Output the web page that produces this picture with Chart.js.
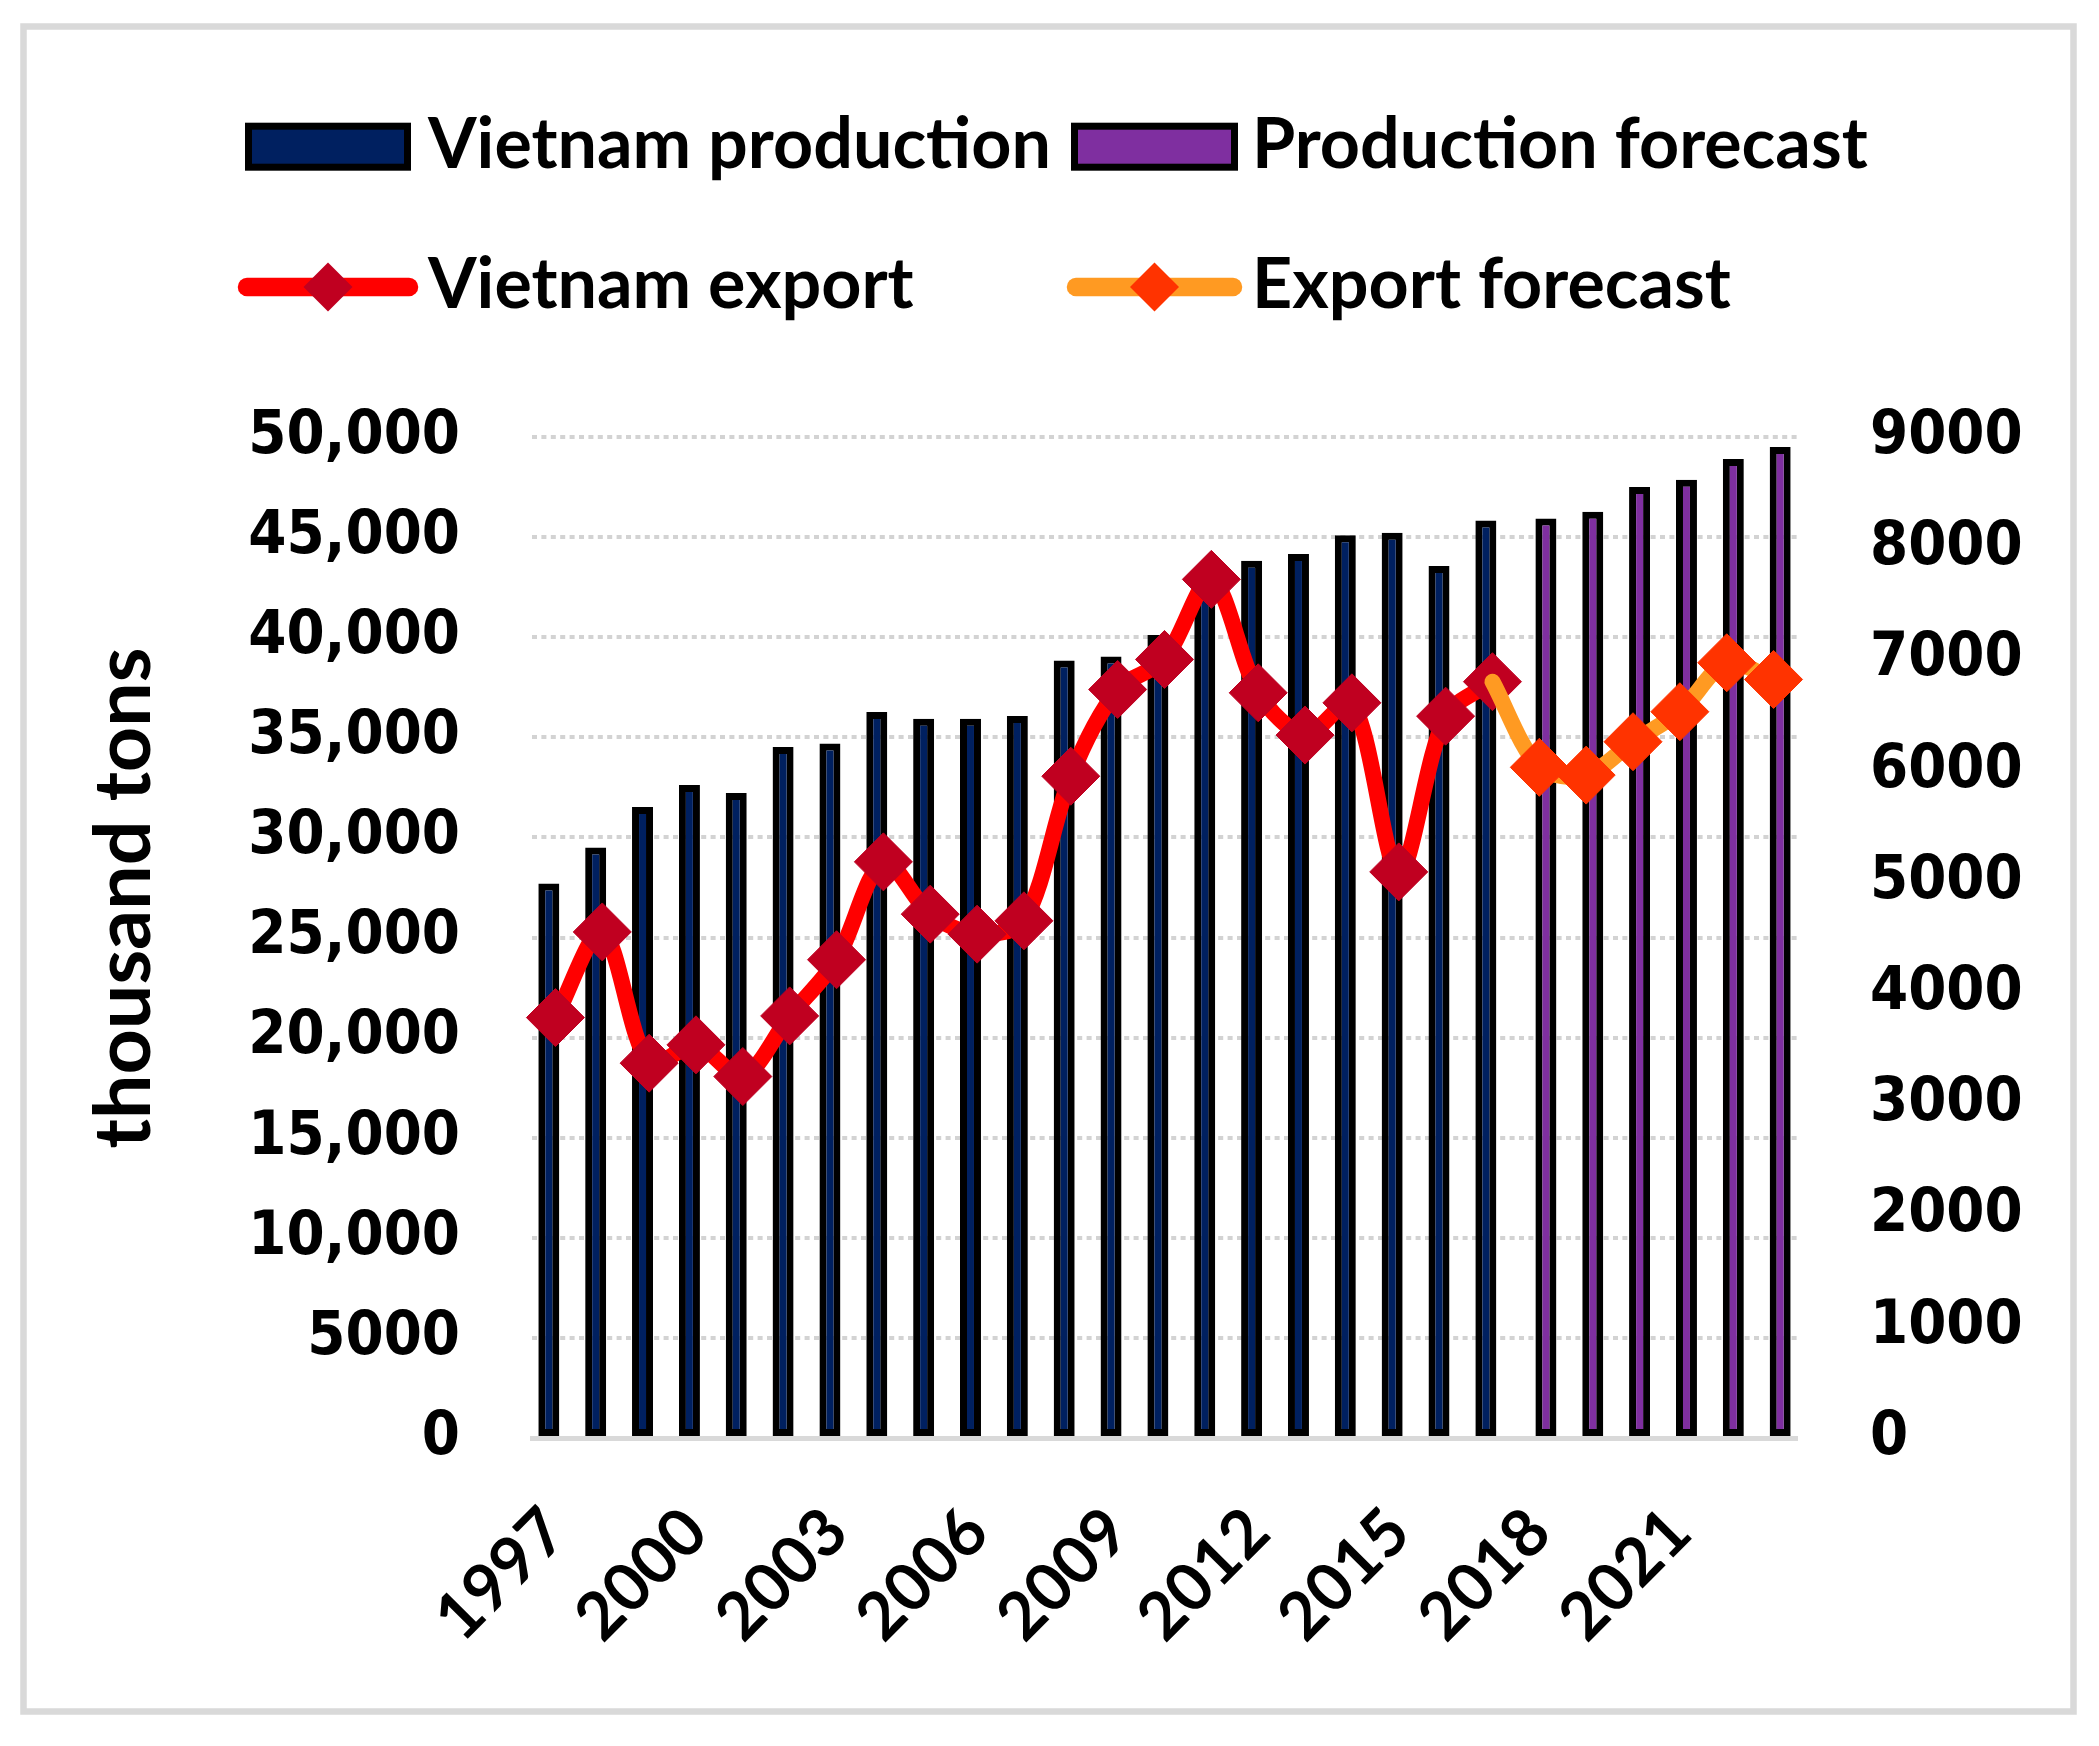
<!DOCTYPE html>
<html>
<head>
<meta charset="utf-8">
<script src="https://cdn.jsdelivr.net/npm/chart.js@4.4.1/dist/chart.umd.min.js"></script>
<style>
html,body{margin:0;padding:0;background:#fff;}
canvas{display:block;}
</style>
</head>
<body>
<canvas id="c" width="2099" height="1746" style="width:2099px;height:1746px"></canvas>
<script>
// ---------- data ----------
const years = ['1997','1998','1999','2000','2001','2002','2003','2004','2005','2006','2007','2008','2009','2010','2011','2012','2013','2014','2015','2016','2017','2018','2019','2020','2021','2022','2023'];
const productionActual = [27700,29500,31520,32620,32220,34520,34690,36260,35930,35930,36060,38840,39040,40110,42400,43820,44150,45090,45220,43560,45830,null,null,null,null,null,null];
const productionForecast = [null,null,null,null,null,null,null,null,null,null,null,null,null,null,null,null,null,null,null,null,null,45930,46260,47500,47870,48900,49500];
const exportActual = [3780,4550,3370,3535,3250,3795,4300,5180,4710,4530,4650,5950,6730,7000,7720,6700,6320,6610,5090,6490,6800,null,null,null,null,null,null];
const exportForecast = [null,null,null,null,null,null,null,null,null,null,null,null,null,null,null,null,null,null,null,null,6800,6030,5960,6260,6530,6970,6820];
const leftTickLabels = ['0','5000','10,000','15,000','20,000','25,000','30,000','35,000','40,000','45,000','50,000'];
const rightTickLabels = ['0','1000','2000','3000','4000','5000','6000','7000','8000','9000'];
const xTickLabels = years.map((y, i) => (i % 3 === 0 ? y : ''));
const seriesNames = ['Vietnam production','Production forecast','Vietnam export','Export forecast'];
const yTitle = 'thousand tons';

// ---------- styling ----------
const TICK_FONT = {family: '"DejaVu Sans Condensed", "DejaVu Sans", sans-serif', size: 61, weight: 'bold'};
const LABEL_FAMILY = 'Lato, "Open Sans", sans-serif';

const decor = {
  id: 'decor',
  beforeDraw(chart) {
    const ctx = chart.ctx;
    ctx.save();
    ctx.fillStyle = '#ffffff';
    ctx.fillRect(0, 0, chart.width, chart.height);
    ctx.strokeStyle = '#d9d9d9';
    ctx.lineWidth = 6.5;
    ctx.strokeRect(23.5, 26.5, 2050, 1685);
    ctx.restore();
  },
  afterDraw(chart) {
    const ctx = chart.ctx;
    const ds = chart.data.datasets;
    ctx.save();
    // legend
    const items = [
      {i: 0, kind: 'box', x0: 245, x1: 411, tx: 428, cy: 146.7, base: 168},
      {i: 1, kind: 'box', x0: 1071, x1: 1238, tx: 1252, cy: 146.7, base: 168},
      {i: 2, kind: 'line', x0: 238, x1: 418, tx: 428, cy: 287, base: 308},
      {i: 3, kind: 'line', x0: 1067, x1: 1242, tx: 1252, cy: 287, base: 308}
    ];
    items.forEach(it => {
      const d = ds[it.i];
      if (it.kind === 'box') {
        ctx.fillStyle = '#000000';
        ctx.fillRect(it.x0, it.cy - 24, it.x1 - it.x0, 48);
        ctx.fillStyle = d.backgroundColor;
        ctx.fillRect(it.x0 + 7, it.cy - 17, it.x1 - it.x0 - 14, 34);
      } else {
        ctx.strokeStyle = d.borderColor;
        ctx.lineWidth = 18.5;
        ctx.lineCap = 'round';
        ctx.beginPath();
        ctx.moveTo(it.x0 + 9, it.cy);
        ctx.lineTo(it.x1 - 9, it.cy);
        ctx.stroke();
        const cx = (it.x0 + it.x1) / 2, r = 24.5;
        ctx.fillStyle = d.pointBackgroundColor;
        ctx.beginPath();
        ctx.moveTo(cx - r, it.cy);
        ctx.lineTo(cx, it.cy - r);
        ctx.lineTo(cx + r, it.cy);
        ctx.lineTo(cx, it.cy + r);
        ctx.closePath();
        ctx.fill();
      }
      ctx.fillStyle = '#000000';
      ctx.font = 'bold 70px ' + LABEL_FAMILY;
      ctx.textAlign = 'left';
      ctx.textBaseline = 'alphabetic';
      ctx.fillText(d.label, it.tx, it.base);
    });
    // y axis title
    ctx.translate(150, 898);
    ctx.rotate(-Math.PI / 2);
    ctx.font = 'bold 79px ' + LABEL_FAMILY;
    ctx.textAlign = 'center';
    ctx.textBaseline = 'alphabetic';
    ctx.fillStyle = '#000000';
    ctx.fillText(yTitle, 0, 0);
    ctx.restore();
  }
};

function build() {
  const ctx = document.getElementById('c').getContext('2d');
  new Chart(ctx, {
    data: {
      labels: years,
      datasets: [
        {type: 'bar', label: seriesNames[0], data: productionActual, yAxisID: 'y', order: 3,
         backgroundColor: '#002060', borderColor: '#000000', borderWidth: 7, borderSkipped: false,
         categoryPercentage: 0.5635, barPercentage: 1.59},
        {type: 'bar', label: seriesNames[1], data: productionForecast, yAxisID: 'y', order: 3,
         backgroundColor: '#7F2FA0', borderColor: '#000000', borderWidth: 7, borderSkipped: false,
         categoryPercentage: 0.5635, barPercentage: 1.59},
        {type: 'line', label: seriesNames[2], data: exportActual, yAxisID: 'y1', order: 2,
         borderColor: '#FF0000', borderWidth: 16, tension: 0.3, borderCapStyle: 'round', borderJoinStyle: 'round',
         pointStyle: 'rectRot', pointRadius: 29, pointBackgroundColor: '#C00020', pointBorderColor: '#C00020',
         pointBorderWidth: 1, clip: false},
        {type: 'line', label: seriesNames[3], data: exportForecast, yAxisID: 'y1', order: 1,
         borderColor: '#FF9A22', borderWidth: 16, tension: 0.3, borderCapStyle: 'round', borderJoinStyle: 'round',
         pointStyle: 'rectRot',
         pointRadius: c => (exportActual[c.dataIndex] != null ? 0 : 29),
         pointBackgroundColor: '#FF3300', pointBorderColor: '#FF3300', pointBorderWidth: 1, clip: false}
      ]
    },
    options: {
      responsive: false,
      animation: false,
      devicePixelRatio: 1,
      layout: {padding: {top: 437, left: 0, right: 0, bottom: 0}},
      plugins: {legend: {display: false}, tooltip: {enabled: false}},
      scales: {
        x: {
          grid: {display: false, drawTicks: false},
          border: {display: true, color: '#d9d9d9', width: 5},
          ticks: {
            autoSkip: false, minRotation: 45, maxRotation: 45, padding: 55, color: '#000000',
            font: {family: LABEL_FAMILY, size: 66, weight: 'bold'},
            callback: (v, i) => xTickLabels[i]
          },
          afterFit: s => { s.height = 308; s.paddingLeft = 0; s.paddingRight = 0; }
        },
        y: {
          position: 'left', min: 0, max: 50000,
          grid: {color: c => (c.tick && c.tick.value === 0 ? 'rgba(0,0,0,0)' : '#d3d3d3'), lineWidth: 4, drawTicks: false},
          border: {display: false, dash: [5, 4.4]},
          ticks: {stepSize: 5000, padding: 72, color: '#000000', font: TICK_FONT,
                  callback: (v, i) => leftTickLabels[i]},
          afterFit: s => { s.width = 532; s.paddingTop = 0; s.paddingBottom = 0; }
        },
        y1: {
          position: 'right', min: 0, max: 9000,
          grid: {drawOnChartArea: false, drawTicks: false},
          border: {display: false},
          ticks: {stepSize: 1000, padding: 73, color: '#000000', font: TICK_FONT,
                  callback: (v, i) => rightTickLabels[i]},
          afterFit: s => { s.width = 302; s.paddingTop = 0; s.paddingBottom = 0; }
        }
      }
    },
    plugins: [decor]
  });
}

const fontLoads = [
  'bold 70px Lato', 'bold 60px "DejaVu Sans Condensed"', 'bold 60px "DejaVu Sans"'
].map(f => (document.fonts && document.fonts.load ? document.fonts.load(f).catch(() => null) : Promise.resolve()));
Promise.all(fontLoads).then(build, build);
</script>
</body>
</html>
